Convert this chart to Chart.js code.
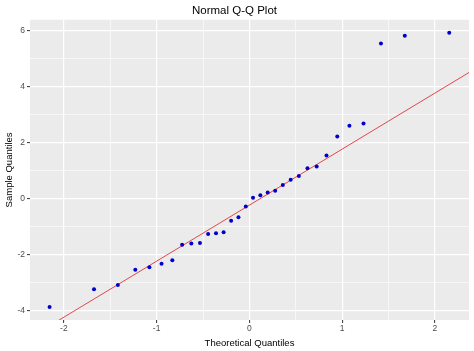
<!DOCTYPE html>
<html>
<head>
<meta charset="utf-8">
<script src="https://cdn.jsdelivr.net/npm/chart.js@4.4.0/dist/chart.umd.min.js"></script>
<style>
	html, body { margin: 0; padding: 0; background: #fff; }
	#wrap { width: 474px; height: 351px; }
</style>
</head>
<body>
<div id="wrap"><canvas id="qqChart"></canvas></div>
<script>
// theoretical vs sample quantiles
const theoretical = [-2.154, -1.675, -1.418, -1.230, -1.078, -0.947, -0.831, -0.725,
	-0.626, -0.533, -0.445, -0.360, -0.278, -0.197, -0.118, -0.039,
	0.039, 0.118, 0.197, 0.278, 0.360, 0.445, 0.533, 0.626,
	0.725, 0.831, 0.947, 1.078, 1.230, 1.418, 1.675, 2.154];
const sample = [-3.88, -3.24, -3.09, -2.55, -2.46, -2.33, -2.21, -1.65,
	-1.61, -1.59, -1.27, -1.24, -1.21, -0.80, -0.67, -0.29,
	0.02, 0.11, 0.21, 0.27, 0.48, 0.67, 0.80, 1.08,
	1.14, 1.53, 2.21, 2.59, 2.67, 5.53, 5.81, 5.91];

// reference line end points
const lineX = [-2.4, 2.4];
const lineY = [-5.04, 4.56];

const xTicks = [-2, -1, 0, 1, 2];
const yTicks = [-4, -2, 0, 2, 4, 6];
const xMinor = [-1.5, -0.5, 0.5, 1.5];
const yMinor = [-3, -1, 1, 3, 5];

const FONT = "'Liberation Sans', Arial, sans-serif";

document.addEventListener('DOMContentLoaded', function() {
	const ctx = document.getElementById('qqChart').getContext('2d');

	const panelBg = {
		id: 'panelBg',
		beforeDraw(chart) {
			const a = chart.chartArea;
			const c = chart.ctx;
			c.save();
			c.fillStyle = '#EBEBEB';
			c.fillRect(a.left, a.top, a.right - a.left, a.bottom - a.top);
			c.restore();
		}
	};

	function setTicks(major, minor) {
		return function(scale) {
			const all = major.concat(minor).sort((a, b) => a - b);
			scale.ticks = all.map(v => ({ value: v }));
		};
	}

	const isMajor = (list) => (c) => c.tick && list.includes(c.tick.value);

	new Chart(ctx, {
		type: 'scatter',
		data: {
			datasets: [{
				label: 'sample',
				data: theoretical.map((x, i) => ({ x: x, y: sample[i] })),
				backgroundColor: '#0000CC',
				borderColor: '#0000CC',
				borderWidth: 0,
				pointRadius: 2,
				pointHoverRadius: 2,
				order: 1
			}, {
				label: 'line',
				type: 'line',
				data: lineX.map((x, i) => ({ x: x, y: lineY[i] })),
				borderColor: '#E2474A',
				borderWidth: 1,
				pointRadius: 0,
				fill: false,
				order: 2
			}]
		},
		options: {
			animation: false,
			responsive: true,
			maintainAspectRatio: false,
			layout: { padding: { left: 0, right: 5, top: 0, bottom: 0 } },
			plugins: {
				legend: { display: false },
				tooltip: { enabled: false },
				title: {
					display: true,
					text: 'Normal Q-Q Plot',
					color: '#000',
					font: { family: FONT, size: 11.5, weight: 'normal' },
					padding: { top: 4, bottom: 2 }
				}
			},
			scales: {
				x: {
					type: 'linear',
					min: -2.365,
					max: 2.367,
					afterBuildTicks: setTicks(xTicks, xMinor),
					afterFit(scale) { scale.height = 31; },
					border: { display: false },
					grid: {
						color: '#FFFFFF',
						lineWidth: (c) => isMajor(xTicks)(c) ? 1.2 : 0.6,
						tickColor: (c) => isMajor(xTicks)(c) ? '#333333' : 'rgba(0,0,0,0)',
						tickLength: 3,
						tickWidth: 1
					},
					ticks: {
						autoSkip: false,
						maxRotation: 0,
						padding: 1,
						color: '#4D4D4D',
						font: { family: FONT, size: 8.5 },
						callback: (v) => xTicks.includes(v) ? String(v) : ''
					},
					title: {
						display: true,
						text: 'Theoretical Quantiles',
						color: '#000',
						font: { family: FONT, size: 9.5 },
						padding: { top: 0, bottom: 2 }
					}
				},
				y: {
					type: 'linear',
					min: -4.34,
					max: 6.375,
					afterBuildTicks: setTicks(yTicks, yMinor),
					afterFit(scale) { scale.width = 30; },
					border: { display: false },
					grid: {
						color: '#FFFFFF',
						lineWidth: (c) => isMajor(yTicks)(c) ? 1.2 : 0.6,
						tickColor: (c) => isMajor(yTicks)(c) ? '#333333' : 'rgba(0,0,0,0)',
						tickLength: 3,
						tickWidth: 1
					},
					ticks: {
						autoSkip: false,
						padding: 2,
						color: '#4D4D4D',
						font: { family: FONT, size: 8.5 },
						callback: (v) => yTicks.includes(v) ? String(v) : ''
					},
					title: {
						display: true,
						text: 'Sample Quantiles',
						color: '#000',
						font: { family: FONT, size: 9.5 },
						padding: { top: 4, bottom: 0 }
					}
				}
			}
		},
		plugins: [panelBg]
	});
});
</script>
</body>
</html>
